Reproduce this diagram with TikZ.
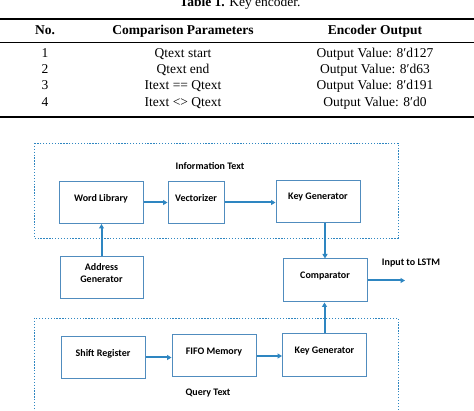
\documentclass[tikz,border=0pt]{standalone}
\usepackage{fontspec}
\setmainfont{Liberation Serif}
\newfontfamily\diagfont{Carlito}
\usetikzlibrary{arrows.meta,positioning}

\definecolor{flowblue}{RGB}{46,134,193}
\definecolor{edgeblue}{RGB}{80,140,190}

\begin{document}
\begin{tikzpicture}[
  x=1pt,y=-1pt,
  blk/.style={draw=edgeblue,line width=1pt,minimum width=84pt,minimum height=42pt,
    inner sep=2pt,align=center,text depth=10pt,font=\diagfont\bfseries\fontsize{10}{12}\selectfont},
  lbl/.style={font=\diagfont\bfseries\fontsize{10}{12}\selectfont},
  flow/.style={-{Triangle[length=4.5pt,width=5pt]},line width=2pt,flowblue},
  grp/.style={draw=flowblue,line width=0.7pt,dash pattern=on 1.3pt off 1.6pt},
  cell/.style={font=\fontsize{13.5}{15}\selectfont,text height=9pt,text depth=3pt,inner sep=0pt},
  head/.style={cell,font=\bfseries\fontsize{13.5}{15}\selectfont},
]
\useasboundingbox (0,0) rectangle (474,411);
\clip (0,0) rectangle (474,411);

% ---------- table: key encoder ----------
\node[anchor=base,font=\fontsize{13.5}{15}\selectfont] (caption) at (240,7) {\textbf{Table 1.} Key encoder.};
\draw[line width=1.4pt] (0,19) -- (474,19);
\draw[line width=0.7pt] (0,42) -- (474,42);
\draw[line width=1.4pt] (0,117) -- (474,117);
\node[head] (hno) at (45,32) {No.};
\node[head] (hpar) at (183,32) {Comparison Parameters};
\node[head] (hout) at (375,32) {Encoder Output};
\foreach \cmpv/\outv [count=\i] in {Qtext start/127,Qtext end/63,Itext == Qtext/191,Itext <> Qtext/0}{
  \node[cell] (no\i) at (45,38+16.3*\i) {\i};
  \node[cell] (par\i) at (183,38+16.3*\i) {\cmpv};
  \node[cell] (out\i) at (375,38+16.3*\i) {Output Value: 8′d\outv};
}

% ---------- information text ----------
\draw[grp] (34,143) rectangle (398,238);
\node[lbl] (itext) at (210,166) {Information Text};
\node[blk] (wordlib) at (101,202.5) {Word Library};
\node[blk,minimum width=56pt] (vec) at (196,202.5) {Vectorizer};
\node[blk] (kgi) at (318,201.5) {Key Generator};
\node[blk,minimum width=83pt] (addr) at (101.5,278) {Address\\Generator};
\draw[flow] (wordlib.east) -- (vec.west);
\draw[flow] (vec.east) -- (vec.east -| kgi.west);
\draw[flow] (addr.north) -- (addr.north |- wordlib.south);

% ---------- comparator ----------
\node[blk,minimum height=43pt] (cmp) at (325,280.5) {Comparator};
\coordinate (lstm) at (405,280.5);
\node[lbl] (lstmlbl) at (411,263) {Input to LSTM};
\draw[flow] (kgi.south -| cmp.north) -- (cmp.north);
\draw[flow] (cmp.east) -- (lstm);

% ---------- query text ----------
\draw[grp] (34,318) rectangle (398,440);
\node[blk] (shreg) at (103,357.5) {Shift Register};
\node[blk] (fifo) at (214,356) {FIFO Memory};
\node[blk,minimum height=43pt] (kgq) at (324.5,355.5) {Key Generator};
\node[lbl] (qtext) at (208,393) {Query Text};
\draw[flow] (shreg.east) -- (shreg.east -| fifo.west);
\draw[flow] (fifo.east) -- (fifo.east -| kgq.west);
\draw[flow] (kgq.north) -- (kgq.north |- cmp.south);

\end{tikzpicture}
\end{document}
